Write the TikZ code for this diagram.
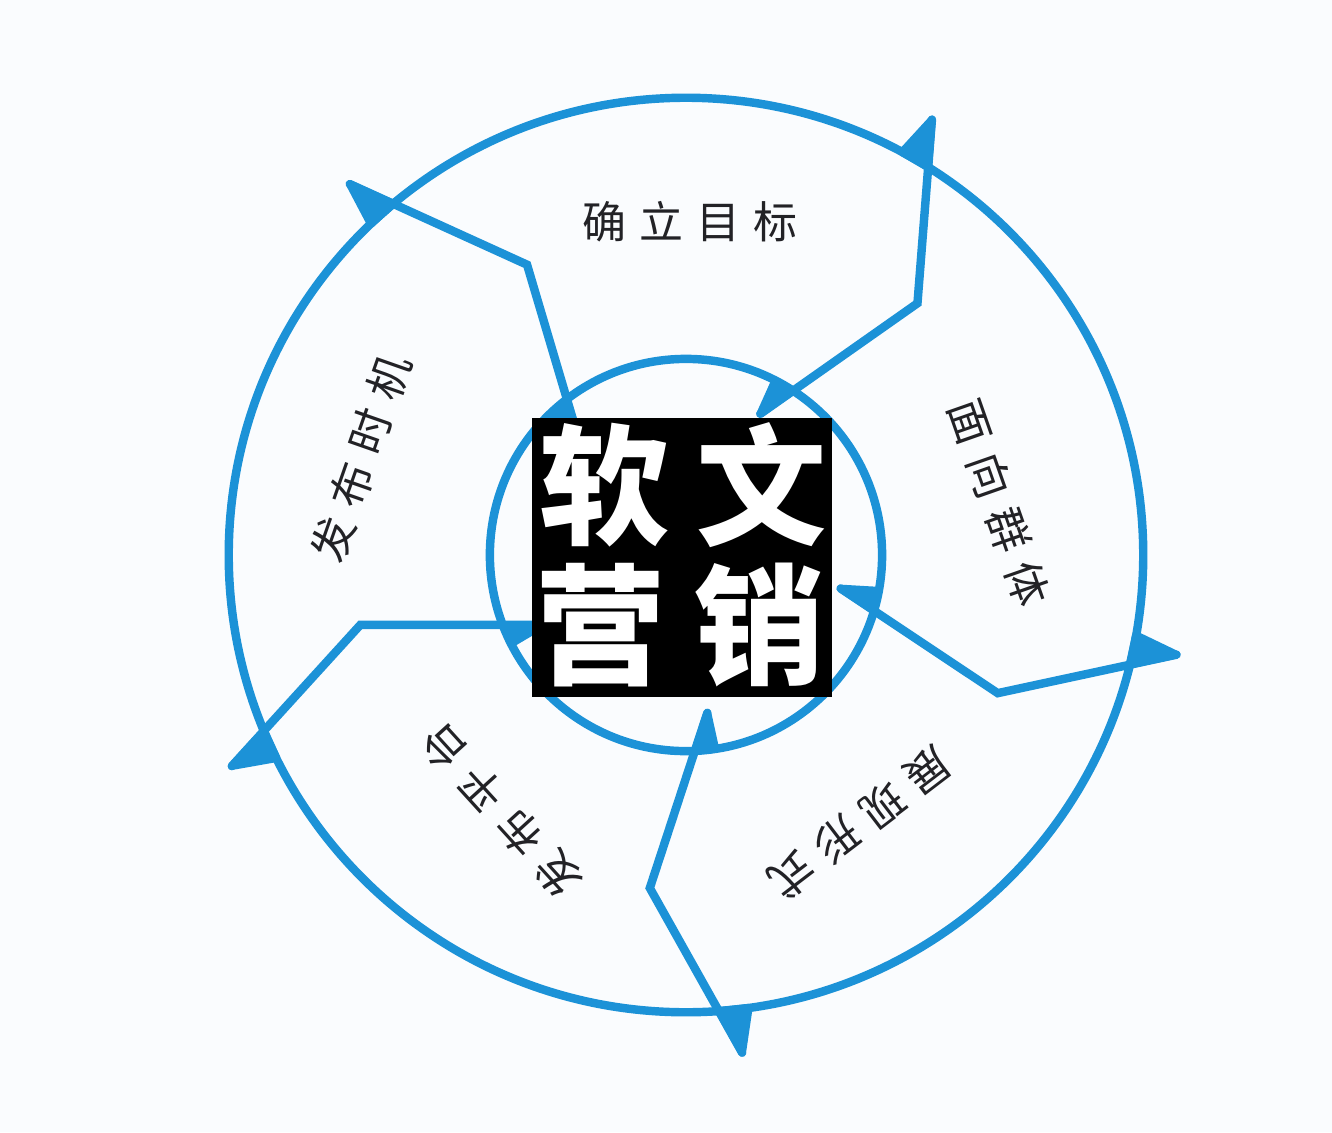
\documentclass[tikz,border=0pt]{standalone}
\usepackage{fontspec}
\newfontfamily\cjk{Noto Sans CJK SC}
\usetikzlibrary{calc}
\definecolor{ringblue}{RGB}{28,146,215}
\definecolor{paper}{RGB}{250,252,254}
\definecolor{ink}{RGB}{34,34,38}
\newcommand{\spread}[4]{#1\kern.3em#2\kern.3em#3\kern.3em#4}
\tikzset{
  ring/.style={line width=2.4pt, draw=ringblue},
  divider/.style={line width=2.4pt, draw=ringblue, line cap=round},
  wedge/.style={line width=2.2pt, draw=ringblue, fill=ringblue, line join=round},
  stage/.style={font=\cjk\fontsize{12.5}{14}\selectfont, text=ink, inner sep=0pt},
  bigchar/.style={font=\cjk\bfseries\fontsize{37}{38}\selectfont, text=white, inner sep=0pt}
}
\begin{document}
\begin{tikzpicture}[x=0.01cm, y=0.01cm]
    \useasboundingbox (-686,-577) rectangle (646,555);
    \fill[paper] (-686,-577) rectangle (646,555);
    % rings
    \draw[ring] (0,0) circle (4.57cm);
    \draw[ring] (0,0) circle (1.96cm);
    % five bent dividers with barbs on both rings
    \foreach \ia/\ka/\kr/\oa [count=\i] in {127.4/118.7/331/129.8, 56.9/47.4/342/58.0, -16.5/-23.9/341/-13.9, -87.4/-96.2/335/-85.9, 200.9/192.1/333/202.6}{
        \coordinate (in\i) at (\ia:196);
        \coordinate (kink\i) at (\ka:\kr);
        \coordinate (out\i) at (\oa:457);
        \coordinate (inTip\i) at ($(in\i)!-0.4cm!(kink\i)$);
        \coordinate (outTip\i) at ($(out\i)!-0.48cm!(kink\i)$);
        \draw[divider] (inTip\i) -- (kink\i) -- (outTip\i);
        \draw[wedge] (inTip\i) -- (in\i) -- ({\ia+6}:196) -- cycle;
        \draw[wedge] (outTip\i) -- (out\i) -- ({\oa+3.8}:457) -- cycle;
    }
    % centre block
    \node (core) [fill=black, minimum width=3cm, minimum height=2.79cm, inner sep=0pt] at (-4,-2.5) {};
    \node[bigchar] (ruan) at (-81,70) {软};
    \node[bigchar] (wen) at (76,70) {文};
    \node[bigchar] (ying) at (-85,-70) {营};
    \node[bigchar] (xiao) at (74,-70) {销};
    % stage labels
    \node[stage] (goal) at (4,333) {\spread{确}{立}{目}{标}};
    \node[stage, rotate=-70.7] (audience) at (313,52) {\spread{面}{向}{群}{体}};
    \node[stage, rotate=217.4] (form) at (174,-268) {\spread{展}{现}{形}{式}};
    \node[stage, rotate=132.3] (platform) at (-185,-256) {\spread{发}{布}{平}{台}};
    \node[stage, rotate=70.7] (timing) at (-325,97) {\spread{发}{布}{时}{机}};
\end{tikzpicture}
\end{document}
